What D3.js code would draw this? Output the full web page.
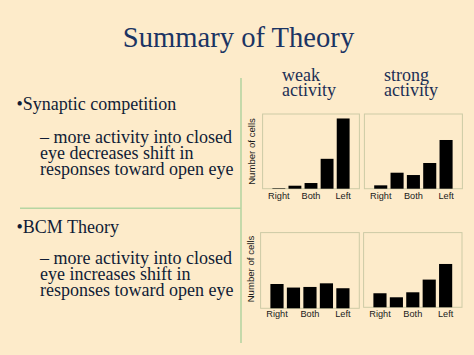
<!DOCTYPE html>
<html>
<head>
<meta charset="utf-8">
<script src="https://cdn.jsdelivr.net/npm/d3@7"></script>
<style>
  html, body { margin: 0; padding: 0; background: #fdebca; }
  svg { display: block; }
</style>
</head>
<body>
<script>
// ---- data ----
const categories = ["Right", "R-mid", "Both", "L-mid", "Left"];
const tickLabels = ["Right", "", "Both", "", "Left"];
const weakCompetition   = [0.7, 4, 7.6, 40, 94];
const strongCompetition = [4.5, 21.4, 18.3, 34.4, 65.2];
const weakBCM           = [32.1, 27.4, 28.2, 33, 26.5];
const strongBCM         = [18.8, 13.4, 20.1, 37.1, 58];
const columnHeaders = [["weak", "activity"], ["strong", "activity"]];
const yAxisLabel = "Number of cells";
const titleText = "Summary of Theory";
const bullets = [
  { head: "\u2022Synaptic competition",
    lines: ["\u2013 more activity into closed", "eye decreases shift in", "responses toward open eye"] },
  { head: "\u2022BCM Theory",
    lines: ["\u2013 more activity into closed", "eye increases shift in", "responses toward open eye"] }
];

// ---- layout ----
const W = 474, H = 355;
const serif = "'Liberation Serif','Times New Roman',Times,serif";
const sans = "'Liberation Sans',Arial,Helvetica,sans-serif";
const svg = d3.select("body").append("svg").attr("width", W).attr("height", H);
svg.append("rect").attr("width", W).attr("height", H).attr("fill", "#fdebca");

// title
svg.append("text").attr("x", 238.5).attr("y", 46.7)
  .attr("text-anchor", "middle").attr("font-family", serif).attr("font-size", 28.6)
  .attr("fill", "#1b3463").text(titleText);

// dividers
const green = "#b6d5a2";
svg.append("line").attr("x1", 241).attr("x2", 241).attr("y1", 78).attr("y2", 343)
  .attr("stroke", green).attr("stroke-width", 1.6);
svg.append("line").attr("x1", 20).attr("x2", 241).attr("y1", 208.3).attr("y2", 208.3)
  .attr("stroke", green).attr("stroke-width", 1.6);

// bullet texts
const textColor = "#101c36";
const bulletPos = [{ y: 110, lines: [143, 159, 175] }, { y: 232.5, lines: [264, 280, 296] }];
bullets.forEach((b, i) => {
  svg.append("text").attr("x", 16.5).attr("y", bulletPos[i].y)
    .attr("font-family", serif).attr("font-size", 18).attr("fill", textColor).text(b.head);
  b.lines.forEach((l, j) => {
    svg.append("text").attr("x", 40).attr("y", bulletPos[i].lines[j])
      .attr("font-family", serif).attr("font-size", 18).attr("fill", textColor).text(l);
  });
});

// column headers
const headerX = [282, 384];
columnHeaders.forEach((h, i) => {
  h.forEach((t, j) => {
    svg.append("text").attr("x", headerX[i]).attr("y", j === 0 ? 80.7 : 96)
      .attr("font-family", serif).attr("font-size", 18).attr("fill", "#1b2f55").text(t);
  });
});

// panels
const panels = [
  { data: weakCompetition,   x: 262.6, y: 114,   w: 96.8, h: 74.7, pad: 4.2 },
  { data: strongCompetition, x: 364.4, y: 114,   w: 98,   h: 74.7, pad: 4.2 },
  { data: weakBCM,           x: 260.6, y: 232.6, w: 98.7, h: 75.7, pad: 2.4 },
  { data: strongBCM,         x: 363.6, y: 232.6, w: 98.4, h: 74.7, pad: 2.8 }
];
panels.forEach(p => {
  const g = svg.append("g").attr("transform", `translate(${p.x},${p.y})`);
  const x = d3.scaleBand().domain(categories).range([9.8, p.w - 9.8]).paddingInner(0.2).paddingOuter(0);
  const y = d3.scaleLinear().domain([0, 100]).range([p.h, 0]);
  g.append("rect").attr("x", 0).attr("y", 0).attr("width", p.w).attr("height", p.h)
    .attr("fill", "none").attr("stroke", "#cdcba6").attr("stroke-width", 1);
  g.selectAll("rect.bar").data(p.data).join("rect").attr("class", "bar")
    .attr("x", (d, i) => x(categories[i]))
    .attr("y", d => y(d))
    .attr("width", x.bandwidth())
    .attr("height", d => p.h - y(d))
    .attr("fill", "#000");
  const axis = d3.axisBottom(x).tickSize(0).tickPadding(p.pad)
    .tickFormat((d, i) => tickLabels[i]);
  const ag = g.append("g").attr("transform", `translate(0,${p.h})`).call(axis);
  ag.select(".domain").remove();
  ag.selectAll("text").attr("font-family", sans).attr("font-size", 9.2).attr("fill", "#1a1a1a");
});

// y axis labels
[[255, 151.5], [254, 269]].forEach(([tx, ty]) => {
  svg.append("text").attr("transform", `translate(${tx},${ty}) rotate(-90)`)
    .attr("text-anchor", "middle").attr("font-family", sans).attr("font-size", 9.6)
    .attr("fill", "#1a1a1a").text(yAxisLabel);
});
</script>
</body>
</html>
